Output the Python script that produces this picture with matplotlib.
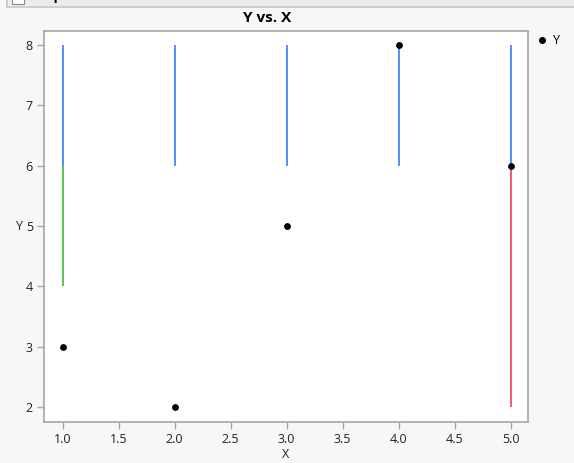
import matplotlib.pyplot as plt
from matplotlib.patches import Rectangle
from matplotlib.lines import Line2D

# ---------- Data ----------
x = [1, 2, 3, 4, 5]
y = [3, 2, 5, 8, 6]

blue_x = [1, 2, 3, 4, 5]
blue_lo = [6, 6, 6, 6, 6]
blue_hi = [8, 8, 8, 8, 8]

green_x = [1]
green_lo = [4]
green_hi = [6]

red_x = [5]
red_lo = [2]
red_hi = [6]

xticks = [1.0, 1.5, 2.0, 2.5, 3.0, 3.5, 4.0, 4.5, 5.0]
yticks = [2, 3, 4, 5, 6, 7, 8]

W, H = 574, 463
BG = "#f7f7f7"
FRAME = "#a6a6a6"
plt.rcParams["font.family"] = ["Open Sans", "DejaVu Sans"]

fig = plt.figure(figsize=(W / 100, H / 100), dpi=100, facecolor=BG)

# header strip of the "Graph Builder" outline box (cut off at top, as in the screenshot)
fig.patches.append(Rectangle((7 / W, 1 - 6 / H), 1, 6 / H, transform=fig.transFigure,
                             facecolor="#ececec", edgecolor="none"))
fig.add_artist(Line2D([7 / W, 1], [1 - 6.5 / H, 1 - 6.5 / H], transform=fig.transFigure,
                      color="#c8c8c8", lw=1.2))
fig.add_artist(Line2D([7 / W, 7 / W], [1, 1 - 6.5 / H], transform=fig.transFigure,
                      color="#c8c8c8", lw=1.2))
fig.patches.append(Rectangle((12 / W, 1 - 4 / H), 12 / W, 12 / H, transform=fig.transFigure,
                             facecolor="white", edgecolor="#888888", lw=0.8))
fig.text(29 / W, 1 - 3 / H, "Graph Builder", fontsize=10, fontweight="bold",
         va="bottom", ha="left", color="black")

ax = fig.add_axes([44 / W, (H - 422) / H, 484 / W, 391 / H])
ax.set_facecolor("white")

ax.vlines(blue_x, blue_lo, blue_hi, color="#2a6dfa", lw=1.1, zorder=2)
ax.vlines(green_x, green_lo, green_hi, color="#25b825", lw=1.1, zorder=2)
ax.vlines(red_x, red_lo, red_hi, color="#e8314a", lw=1.1, zorder=2)
ax.scatter(x, y, s=15, color="black", zorder=3)

ax.set_xlim(0.834, 5.155)
ax.set_ylim(1.75, 8.23)
ax.set_xticks(xticks)
ax.set_xticklabels([f"{t:.1f}" for t in xticks])
ax.set_yticks(yticks)
ax.set_yticklabels([str(t) for t in yticks])

for s in ax.spines.values():
    s.set_color(FRAME)
    s.set_linewidth(1.2)
ax.tick_params(direction="out", length=5, width=1, color=FRAME, labelsize=9,
               labelcolor="#222222", pad=3)

fig.text(267 / W, 1 - 18 / H, "Y vs. X", fontsize=11, fontweight="bold",
         ha="center", va="center")
ax.set_xlabel("X", fontsize=9, color="#222222", labelpad=1)
fig.text(19 / W, 1 - 226 / H, "Y", fontsize=9, color="#222222", ha="center", va="center")

fig.legend(handles=[Line2D([], [], marker="o", ls="none", color="black", markersize=4)],
           labels=["Y"], loc="upper left", bbox_to_anchor=(529 / W, 1 - 29 / H),
           frameon=False, fontsize=9, handletextpad=0.3, handlelength=1.2,
           borderaxespad=0)

fig.savefig("out.png", dpi=100, facecolor=BG)
